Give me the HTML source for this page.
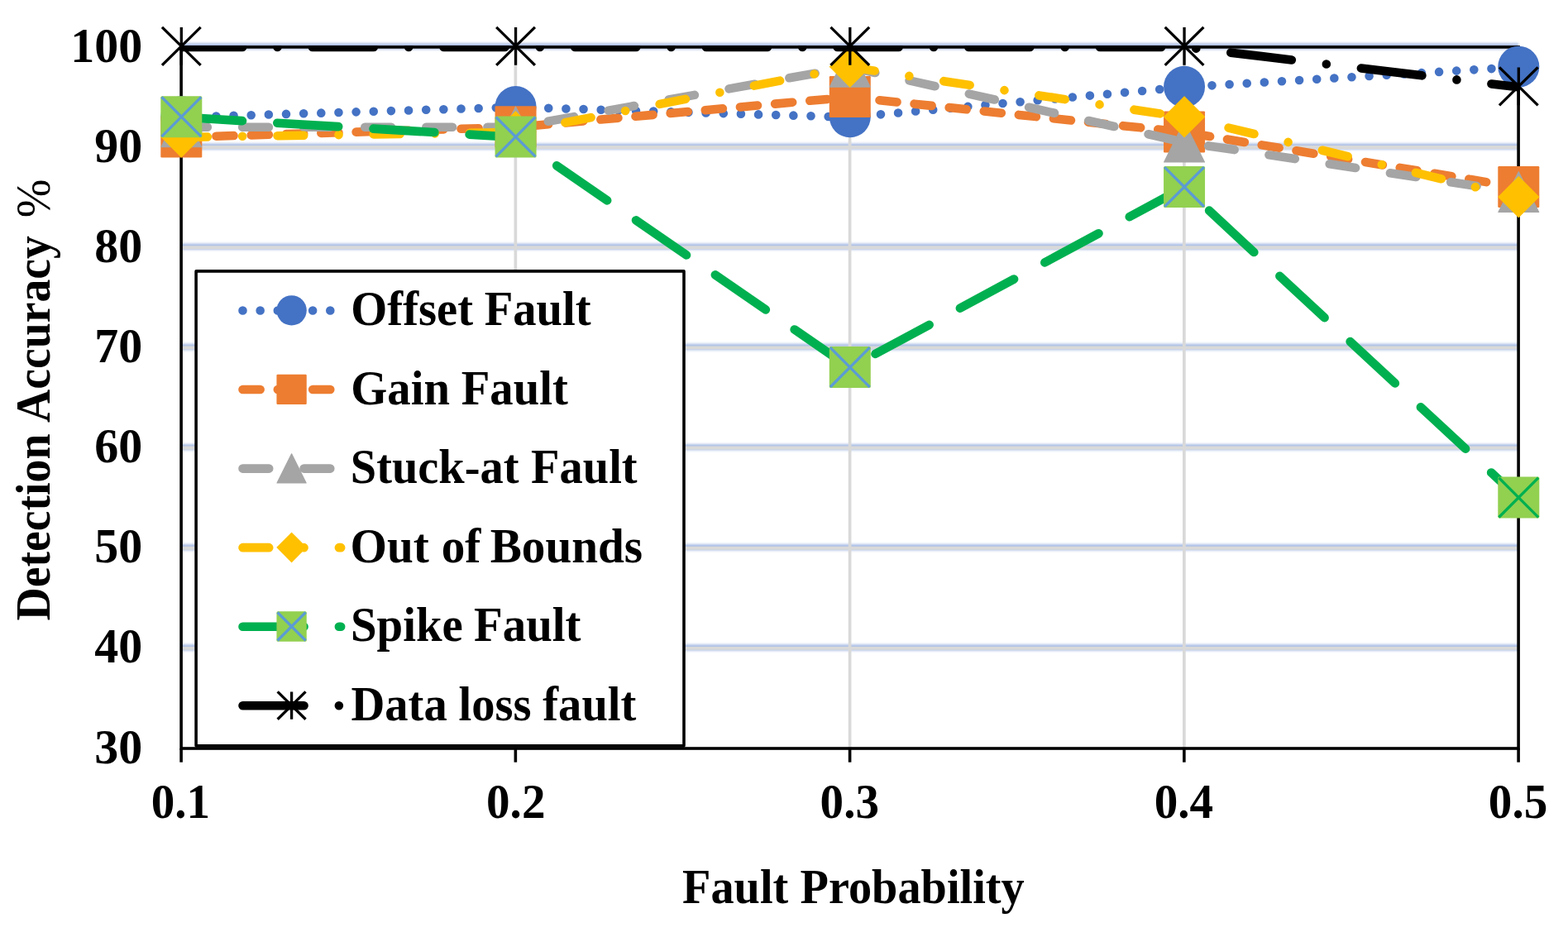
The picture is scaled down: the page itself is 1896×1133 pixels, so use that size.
<!DOCTYPE html>
<html lang="en"><head><meta charset="utf-8"><title>Detection Accuracy vs Fault Probability</title>
<style>
html,body{margin:0;padding:0;background:#fff;}
body{width:1896px;height:1133px;overflow:hidden;}
svg{display:block;}
text{font-family:"Liberation Serif",serif;font-weight:bold;font-size:58.3px;fill:#000;}
.pct{font-weight:normal;font-size:58.6px;}
.ser{fill:none;stroke-linecap:round;stroke-linejoin:round;stroke-width:10.58;}
</style></head><body>
<svg width="1896" height="1133" viewBox="0 0 1896 1133" role="img" aria-label="Line chart of detection accuracy versus fault probability">
<defs>
<filter id="glow" filterUnits="userSpaceOnUse" x="200" y="0" width="1660" height="1133"><feGaussianBlur stdDeviation="1.2 1.5"/></filter>
<clipPath id="plot"><rect x="217.3" y="55.1" width="1620.6" height="851.7"/></clipPath>
</defs>
<rect width="1896" height="1133" fill="#fff"/>
<g id="hgrid">
<g filter="url(#glow)" stroke="#4472C4" stroke-opacity="0.46" stroke-width="7.4">
<line x1="219.1" y1="782.94" x2="1836.1" y2="782.94"/>
<line x1="219.1" y1="661.79" x2="1836.1" y2="661.79"/>
<line x1="219.1" y1="540.63" x2="1836.1" y2="540.63"/>
<line x1="219.1" y1="419.47" x2="1836.1" y2="419.47"/>
<line x1="219.1" y1="298.31" x2="1836.1" y2="298.31"/>
<line x1="219.1" y1="177.16" x2="1836.1" y2="177.16"/>
<line x1="219.1" y1="56" x2="1836.1" y2="56"/>
</g>
<g stroke="#D9D9D9" stroke-width="3.9">
<line x1="219.1" y1="783.84" x2="1836.1" y2="783.84"/>
<line x1="219.1" y1="662.69" x2="1836.1" y2="662.69"/>
<line x1="219.1" y1="541.53" x2="1836.1" y2="541.53"/>
<line x1="219.1" y1="420.37" x2="1836.1" y2="420.37"/>
<line x1="219.1" y1="299.21" x2="1836.1" y2="299.21"/>
<line x1="219.1" y1="178.06" x2="1836.1" y2="178.06"/>
<line x1="219.1" y1="56.9" x2="1836.1" y2="56.9"/>
</g></g>
<g id="vgrid" stroke="#D9D9D9" stroke-width="3.7">
<line x1="623.35" y1="56.9" x2="623.35" y2="905"/>
<line x1="1027.6" y1="56.9" x2="1027.6" y2="905"/>
<line x1="1431.85" y1="56.9" x2="1431.85" y2="905"/>
</g>
<g id="axes" stroke="#000" stroke-width="3.6" fill="none" stroke-linecap="butt">
<rect x="219.1" y="56.9" width="1617" height="848.1"/>
<line x1="219.1" y1="905" x2="219.1" y2="921.7"/>
<line x1="623.35" y1="905" x2="623.35" y2="921.7"/>
<line x1="1027.6" y1="905" x2="1027.6" y2="921.7"/>
<line x1="1431.85" y1="905" x2="1431.85" y2="921.7"/>
<line x1="1836.1" y1="905" x2="1836.1" y2="921.7"/>
</g>
<g class="series">
<polyline class="ser" clip-path="url(#plot)" points="219.1,141.71 623.35,129.59 1027.6,141.71 1431.85,105.36 1836.1,81.13" stroke="#4472C4" stroke-dasharray="0 21.16"/>
<circle cx="219.3" cy="141.21" r="25" fill="#4472C4"/>
<circle cx="623.55" cy="129.09" r="25" fill="#4472C4"/>
<circle cx="1027.8" cy="141.21" r="25" fill="#4472C4"/>
<circle cx="1432.05" cy="104.86" r="25" fill="#4472C4"/>
<circle cx="1836.3" cy="80.63" r="25" fill="#4472C4"/>
</g>
<g class="series">
<polyline class="ser" clip-path="url(#plot)" points="219.1,165.94 623.35,153.83 1027.6,117.48 1431.85,159.88 1836.1,226.52" stroke="#ED7D31" stroke-dasharray="21.16 21.16"/>
<rect x="194.3" y="140.44" width="50" height="50" rx="1.2" fill="#ED7D31"/>
<rect x="598.55" y="128.33" width="50" height="50" rx="1.2" fill="#ED7D31"/>
<rect x="1002.8" y="91.98" width="50" height="50" rx="1.2" fill="#ED7D31"/>
<rect x="1407.05" y="134.38" width="50" height="50" rx="1.2" fill="#ED7D31"/>
<rect x="1811.3" y="201.02" width="50" height="50" rx="1.2" fill="#ED7D31"/>
</g>
<g class="series">
<polyline class="ser" clip-path="url(#plot)" points="219.1,153.83 623.35,153.83 1027.6,81.13 1431.85,172 1836.1,232.58" stroke="#A5A5A5" stroke-dasharray="31.74 42.32"/>
<path d="M219.3 128.93L243.7 177.73L194.9 177.73Z" fill="#A5A5A5" stroke="#A5A5A5" stroke-width="1.2" stroke-linejoin="round"/>
<path d="M623.55 128.93L647.95 177.73L599.15 177.73Z" fill="#A5A5A5" stroke="#A5A5A5" stroke-width="1.2" stroke-linejoin="round"/>
<path d="M1027.8 56.23L1052.2 105.03L1003.4 105.03Z" fill="#A5A5A5" stroke="#A5A5A5" stroke-width="1.2" stroke-linejoin="round"/>
<path d="M1432.05 147.1L1456.45 195.9L1407.65 195.9Z" fill="#A5A5A5" stroke="#A5A5A5" stroke-width="1.2" stroke-linejoin="round"/>
<path d="M1836.3 207.68L1860.7 256.48L1811.9 256.48Z" fill="#A5A5A5" stroke="#A5A5A5" stroke-width="1.2" stroke-linejoin="round"/>
</g>
<g class="series">
<polyline class="ser" clip-path="url(#plot)" points="219.1,165.94 623.35,159.88 1027.6,81.13 1431.85,141.71 1836.1,238.64" stroke="#FFC000" stroke-dasharray="31.74 42.32 0 42.32"/>
<path d="M219.3 141.04L243.7 165.44L219.3 189.84L194.9 165.44Z" fill="#FFC000" stroke="#FFC000" stroke-width="1.2" stroke-linejoin="round"/>
<path d="M623.55 134.98L647.95 159.38L623.55 183.78L599.15 159.38Z" fill="#FFC000" stroke="#FFC000" stroke-width="1.2" stroke-linejoin="round"/>
<path d="M1027.8 56.23L1052.2 80.63L1027.8 105.03L1003.4 80.63Z" fill="#FFC000" stroke="#FFC000" stroke-width="1.2" stroke-linejoin="round"/>
<path d="M1432.05 116.81L1456.45 141.21L1432.05 165.61L1407.65 141.21Z" fill="#FFC000" stroke="#FFC000" stroke-width="1.2" stroke-linejoin="round"/>
<path d="M1836.3 213.74L1860.7 238.14L1836.3 262.54L1811.9 238.14Z" fill="#FFC000" stroke="#FFC000" stroke-width="1.2" stroke-linejoin="round"/>
</g>
<g class="series">
<polyline class="ser" clip-path="url(#plot)" points="219.1,141.71 623.35,165.94 1027.6,444.6 1431.85,226.52 1836.1,602.11" stroke="#00B050" stroke-dasharray="74.06 42.32"/>
<rect x="194.3" y="116.21" width="50" height="50" rx="1.5" fill="#92D050"/><path d="M196.6 118.51L242 163.91M242 118.51L196.6 163.91" stroke="#5B9BD5" stroke-width="3.3" stroke-linecap="square" fill="none"/>
<rect x="598.55" y="140.44" width="50" height="50" rx="1.5" fill="#92D050"/><path d="M600.85 142.74L646.25 188.14M646.25 142.74L600.85 188.14" stroke="#5B9BD5" stroke-width="3.3" stroke-linecap="square" fill="none"/>
<rect x="1002.8" y="419.1" width="50" height="50" rx="1.5" fill="#92D050"/><path d="M1005.1 421.4L1050.5 466.8M1050.5 421.4L1005.1 466.8" stroke="#5B9BD5" stroke-width="3.3" stroke-linecap="square" fill="none"/>
<rect x="1407.05" y="201.02" width="50" height="50" rx="1.5" fill="#92D050"/><path d="M1409.35 203.32L1454.75 248.72M1454.75 203.32L1409.35 248.72" stroke="#5B9BD5" stroke-width="3.3" stroke-linecap="square" fill="none"/>
<rect x="1811.3" y="576.61" width="50" height="50" rx="1.5" fill="#92D050"/><path d="M1813.6 578.91L1859 624.31M1859 578.91L1813.6 624.31" stroke="#00B050" stroke-width="3.3" stroke-linecap="square" fill="none"/>
</g>
<g class="series">
<polyline class="ser" clip-path="url(#plot)" points="219.1,56.9 623.35,56.9 1027.6,56.9 1431.85,56.9 1836.1,105.36" stroke="#000000" stroke-dasharray="74.06 42.32 0 42.32"/>
<path d="M219.3 32.95L219.3 78.85M195.95 32.9L242.65 78.9M242.65 32.9L195.95 78.9" stroke="#000000" stroke-width="3.3" fill="none"/>
<path d="M623.55 32.95L623.55 78.85M600.2 32.9L646.9 78.9M646.9 32.9L600.2 78.9" stroke="#000000" stroke-width="3.3" fill="none"/>
<path d="M1027.8 32.95L1027.8 78.85M1004.45 32.9L1051.15 78.9M1051.15 32.9L1004.45 78.9" stroke="#000000" stroke-width="3.3" fill="none"/>
<path d="M1432.05 32.95L1432.05 78.85M1408.7 32.9L1455.4 78.9M1455.4 32.9L1408.7 78.9" stroke="#000000" stroke-width="3.3" fill="none"/>
<path d="M1836.3 81.41L1836.3 127.31M1812.95 81.36L1859.65 127.36M1859.65 81.36L1812.95 127.36" stroke="#000000" stroke-width="3.3" fill="none"/>
</g>
<rect x="237.1" y="327.9" width="589.9" height="573.95" fill="#fff" stroke="#000" stroke-width="3.6" stroke-linejoin="round"/>
<line class="ser" x1="293.5" y1="375.5" x2="412.2" y2="375.5" stroke="#4472C4" stroke-dasharray="0 21.16"/>
<circle cx="352.6" cy="375.3" r="18.15" fill="#4472C4"/>
<text transform="translate(0 393.1) scale(0.9713 1)"><tspan x="436.87">Offset</tspan> <tspan x="603">Fault</tspan></text>
<line class="ser" x1="293.5" y1="471.05" x2="412.2" y2="471.05" stroke="#ED7D31" stroke-dasharray="21.16 21.16"/>
<rect x="334.45" y="452.7" width="36.3" height="36.3" rx="1.2" fill="#ED7D31"/>
<text transform="translate(0 488.65) scale(0.9721 1)"><tspan x="436.41">Gain</tspan> <tspan x="573.71">Fault</tspan></text>
<line class="ser" x1="293.5" y1="566.6" x2="412.2" y2="566.6" stroke="#A5A5A5" stroke-dasharray="31.74 42.32"/>
<path d="M352.6 548.85L370.15 583.95L335.05 583.95Z" fill="#A5A5A5" stroke="#A5A5A5" stroke-width="1.2" stroke-linejoin="round"/>
<text transform="translate(0 584.2) scale(0.9680 1)"><tspan x="437.76">Stuck-at</tspan> <tspan x="663.33">Fault</tspan></text>
<line class="ser" x1="293.5" y1="662.15" x2="412.2" y2="662.15" stroke="#FFC000" stroke-dasharray="31.74 42.32 0 42.32"/>
<path d="M352.6 644.4L370.15 661.95L352.6 679.5L335.05 661.95Z" fill="#FFC000" stroke="#FFC000" stroke-width="1.2" stroke-linejoin="round"/>
<text transform="translate(0 679.75) scale(0.9816 1)"><tspan x="431.42">Out</tspan> <tspan x="543.74">of</tspan> <tspan x="603.77">Bounds</tspan></text>
<line class="ser" x1="293.5" y1="757.7" x2="412.2" y2="757.7" stroke="#00B050" stroke-dasharray="74.06 42.32"/>
<rect x="334.45" y="739.35" width="36.3" height="36.3" rx="1.5" fill="#92D050"/><path d="M336.75 741.65L368.45 773.35M368.45 741.65L336.75 773.35" stroke="#5B9BD5" stroke-width="3.3" stroke-linecap="square" fill="none"/>
<text transform="translate(0 775.3) scale(0.9758 1)"><tspan x="434.45">Spike</tspan> <tspan x="587.19">Fault</tspan></text>
<line class="ser" x1="293.5" y1="853.25" x2="412.2" y2="853.25" stroke="#000000" stroke-dasharray="74.06 42.32 0 42.32"/>
<path d="M352.6 836.39L352.6 869.71M335.65 836.35L369.55 869.75M369.55 836.35L335.65 869.75" stroke="#000000" stroke-width="3.3" fill="none"/>
<text transform="translate(0 870.85) scale(0.9703 1)"><tspan x="437.41">Data</tspan> <tspan x="571.56">loss</tspan> <tspan x="676.38">fault</tspan></text>
<text transform="translate(0 922.6) scale(0.9950 1)"><tspan x="114.95">30</tspan></text>
<text transform="translate(0 801.44) scale(0.9950 1)"><tspan x="114.95">40</tspan></text>
<text transform="translate(0 680.29) scale(0.9950 1)"><tspan x="114.95">50</tspan></text>
<text transform="translate(0 559.13) scale(0.9950 1)"><tspan x="114.95">60</tspan></text>
<text transform="translate(0 437.97) scale(0.9950 1)"><tspan x="114.95">70</tspan></text>
<text transform="translate(0 316.81) scale(0.9950 1)"><tspan x="114.95">80</tspan></text>
<text transform="translate(0 195.66) scale(0.9950 1)"><tspan x="114.95">90</tspan></text>
<text transform="translate(0 74.5) scale(0.9950 1)"><tspan x="85.7">100</tspan></text>
<text transform="translate(0 989) scale(0.9800 1)"><tspan x="186.43">0.1</tspan></text>
<text transform="translate(0 989) scale(0.9800 1)"><tspan x="600.05">0.2</tspan></text>
<text transform="translate(0 989) scale(0.9800 1)"><tspan x="1011.84">0.3</tspan></text>
<text transform="translate(0 989) scale(0.9800 1)"><tspan x="1424.17">0.4</tspan></text>
<text transform="translate(0 989) scale(0.9800 1)"><tspan x="1836.56">0.5</tspan></text>
<text transform="translate(0 1091.7) scale(0.9660 1)"><tspan x="854.12">Fault</tspan> <tspan x="1001.67">Probability</tspan></text>
<text transform="translate(60.2 760) rotate(-90) scale(0.9557 1)"><tspan x="10.03">Detection</tspan> <tspan x="260.61">Accuracy</tspan> <tspan class="pct" x="519.74">%</tspan></text>
</svg>
</body></html>
